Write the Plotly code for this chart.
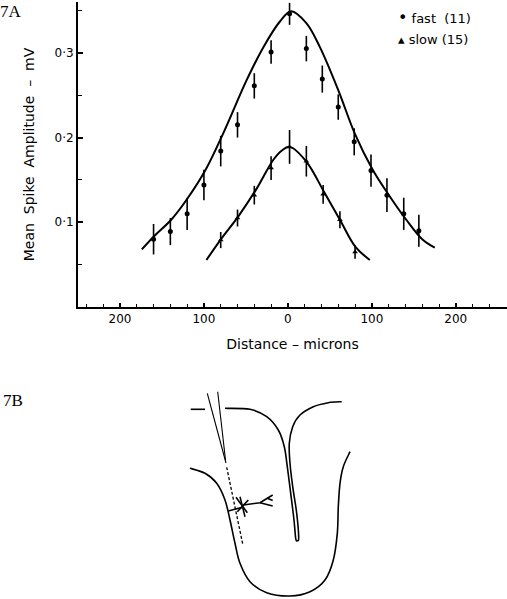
import plotly.graph_objects as go

W, H = 507, 599

# ---- data ----
fast_x = [-160, -140, -120, -100, -80, -60, -40, -20, 2, 22, 41, 60, 79, 99, 118, 138, 156]
fast_y = [0.080, 0.089, 0.110, 0.144, 0.184, 0.215, 0.261, 0.301, 0.346, 0.305, 0.269, 0.236,
          0.195, 0.161, 0.132, 0.110, 0.090]
fast_err = [0.018, 0.016, 0.019, 0.018, 0.018, 0.015, 0.015, 0.014, 0.013, 0.015, 0.016, 0.015,
            0.016, 0.019, 0.020, 0.019, 0.019]

slow_x = [-80, -60, -40, -20, 2, 22, 42, 62, 80]
slow_y = [0.079, 0.105, 0.132, 0.164, 0.189, 0.172, 0.133, 0.103, 0.065]
slow_err = [0.0095, 0.010, 0.011, 0.014, 0.020, 0.018, 0.011, 0.010, 0.008]

fast_fit_x = [-174, -160, -139, -119, -98, -77, -49, -29, -9.5, 4, 22, 38, 60, 80, 101, 119, 141, 161, 175]
fast_fit_y = [0.068, 0.083, 0.103, 0.129, 0.162, 0.205, 0.268, 0.307, 0.337, 0.349, 0.335, 0.307,
              0.256, 0.204, 0.162, 0.134, 0.103, 0.079, 0.070]
slow_fit_x = [-97, -79, -59, -37, -17.5, -7.5, 2.4, 22, 43, 62, 80.5, 97.6]
slow_fit_y = [0.0555, 0.081, 0.107, 0.140, 0.1735, 0.1845, 0.189, 0.1716, 0.136, 0.103, 0.071, 0.0555]

x_tickvals = [-200, -100, 0, 100, 200]
x_ticktext = ["200", "100", "0", "100", "200"]
y_tickvals = [0.1, 0.2, 0.3]
y_ticktext = ["0·1", "0·2", "0·3"]

legend_labels = ["fast  (11)", "slow (15)"]

FONT = "DejaVu Sans"

fig = go.Figure()

# fitted curves
for fx, fy in [(fast_fit_x, fast_fit_y), (slow_fit_x, slow_fit_y)]:
    fig.add_trace(go.Scatter(x=fx, y=fy, mode="lines", line=dict(color="black", width=2, shape="spline"),
                             showlegend=False, hoverinfo="skip"))

fig.add_trace(go.Scatter(x=fast_x, y=fast_y, mode="markers", name=legend_labels[0],
                         marker=dict(symbol="circle", size=5, color="black"),
                         error_y=dict(type="data", array=fast_err, width=0, thickness=1.6, color="black"),
                         showlegend=False))
fig.add_trace(go.Scatter(x=slow_x, y=slow_y, mode="markers", name=legend_labels[1],
                         marker=dict(symbol="triangle-up", size=5, color="black"),
                         error_y=dict(type="data", array=slow_err, width=0, thickness=1.6, color="black"),
                         showlegend=False))

x0 = 78 / W
fig.update_layout(
    width=W, height=H, margin=dict(l=0, r=0, t=0, b=0, autoexpand=False),
    paper_bgcolor="white", plot_bgcolor="white",
    font=dict(family=FONT, color="black", size=12),
    xaxis=dict(domain=[x0, 1], range=[-250, 261], showline=True, linewidth=2, linecolor="black",
               showgrid=False, zeroline=False, ticks="inside", ticklen=4, tickwidth=1.5, tickcolor="black",
               tickvals=x_tickvals, ticktext=x_ticktext, tickfont=dict(size=12, family=FONT),
               minor=dict(dtick=20, tick0=0, ticks="inside", ticklen=3, tickwidth=1.2, tickcolor="black"),
               title=dict(text="Distance – microns", font=dict(size=14, family=FONT), standoff=14)),
    yaxis=dict(domain=[1 - 307 / H, 1 - 2 / H], range=[0, 0.36], showline=True, linewidth=2, linecolor="black",
               showgrid=False, zeroline=False, ticks="inside", ticklen=5, tickwidth=1.5, tickcolor="black",
               tickvals=y_tickvals, ticktext=y_ticktext, tickfont=dict(size=12, family=FONT),
               minor=dict(dtick=0.05, tick0=0, ticks="inside", ticklen=4, tickwidth=1.2, tickcolor="black"),
               title=dict(text="Mean  Spike  Amplitude  –  mV", font=dict(size=14, family=FONT), standoff=17)),
    showlegend=False,
)

# legend as text labels
fig.add_annotation(x=396 / W, y=1 - 17 / H, xref="paper", yref="paper", xanchor="left", yanchor="middle",
                   text="<span style='font-size:16px'>•</span>&nbsp;" + legend_labels[0].replace(" ", "&nbsp;"),
                   showarrow=False, font=dict(size=13, family=FONT))
fig.add_annotation(x=396 / W, y=1 - 40 / H, xref="paper", yref="paper", xanchor="left", yanchor="middle",
                   text="▴&nbsp;" + legend_labels[1].replace(" ", "&nbsp;"), showarrow=False,
                   font=dict(size=13, family=FONT))

# panel labels
fig.add_annotation(x=-2 / W, y=1 - 11 / H, xref="paper", yref="paper", xanchor="left", yanchor="middle",
                   text="7A", showarrow=False, font=dict(size=17, family="Liberation Serif"))
fig.add_annotation(x=1 / W, y=1 - 400 / H, xref="paper", yref="paper", xanchor="left", yanchor="middle",
                   text="7B", showarrow=False, font=dict(size=17, family="Liberation Serif"))


# ---- 7B diagram (illustration; pixel positions converted to paper coordinates) ----
def P(x, y):
    return x / W, 1 - y / H


def smooth_path(pts):
    q = [P(*p) for p in pts]
    d = f"M{q[0][0]:.5f},{q[0][1]:.5f}"
    n = len(q)
    for i in range(n - 1):
        p0 = q[i - 1] if i > 0 else q[i]
        p1 = q[i]
        p2 = q[i + 1]
        p3 = q[i + 2] if i + 2 < n else q[i + 1]
        c1 = (p1[0] + (p2[0] - p0[0]) / 6, p1[1] + (p2[1] - p0[1]) / 6)
        c2 = (p2[0] - (p3[0] - p1[0]) / 6, p2[1] - (p3[1] - p1[1]) / 6)
        d += f" C{c1[0]:.5f},{c1[1]:.5f} {c2[0]:.5f},{c2[1]:.5f} {p2[0]:.5f},{p2[1]:.5f}"
    return d


def line_path(pts):
    q = [P(*p) for p in pts]
    return "M" + " L".join(f"{x:.5f},{y:.5f}" for x, y in q)


outer = [(225, 408.3), (250, 409.3), (266.7, 416.7), (278.3, 430), (284.3, 446.7), (287.3, 466.7),
         (290.7, 493.3), (294, 520), (295.7, 538.3), (297.3, 540.7), (298.7, 537.3), (296.7, 513.3),
         (292.7, 486.7), (290, 463.3), (289.3, 443.3), (292.7, 426.7), (300, 415), (313.3, 406.7),
         (328.3, 402.7), (341.7, 401.7)]
lower = [(190, 468.3), (205, 473.3), (216.7, 483.3), (225, 500), (230, 520), (235, 543.3), (240, 563.3),
         (250, 581.7), (266.7, 592.7), (290, 596), (310, 591.7), (325, 580), (333.3, 560), (337.3, 533.3),
         (338.3, 506.7), (340, 483.3), (343.3, 466.7), (350, 451.7)]


def shp(path, width=1.6, dash="solid"):
    return dict(type="path", xref="paper", yref="paper", path=path,
                line=dict(color="black", width=width, dash=dash))


shapes = [
    shp(smooth_path(outer)),
    shp(smooth_path(lower)),
    shp(line_path([(190.7, 409.3), (205, 409.3)])),
    # electrode
    shp(line_path([(207.3, 393.3), (226, 463)]), 1.1),
    shp(line_path([(217.7, 391.7), (225.5, 460)]), 1.1),
    shp(line_path([(226.7, 467.3), (242.7, 544)]), 1.3, "3px,2px"),
    # neuron
    shp(line_path([(228.3, 511), (243.3, 507)])),
    shp(line_path([(236, 497.3), (247.3, 512.7)])),
    shp(line_path([(240, 496.7), (245, 516.7)])),
    shp(line_path([(237.3, 511.7), (248.3, 500)])),
    shp(line_path([(243.3, 505), (260, 502.7), (267.3, 498.3), (272.7, 495)])),
    shp(line_path([(260, 502.7), (272.7, 506)])),
    shp(line_path([(267.3, 498.3), (272.7, 500.5)])),
]
fig.update_layout(shapes=shapes)

fig.write_html("out.html", config={"displayModeBar": False},
               post_script="document.body.style.margin='0';document.body.style.overflow='hidden';")
